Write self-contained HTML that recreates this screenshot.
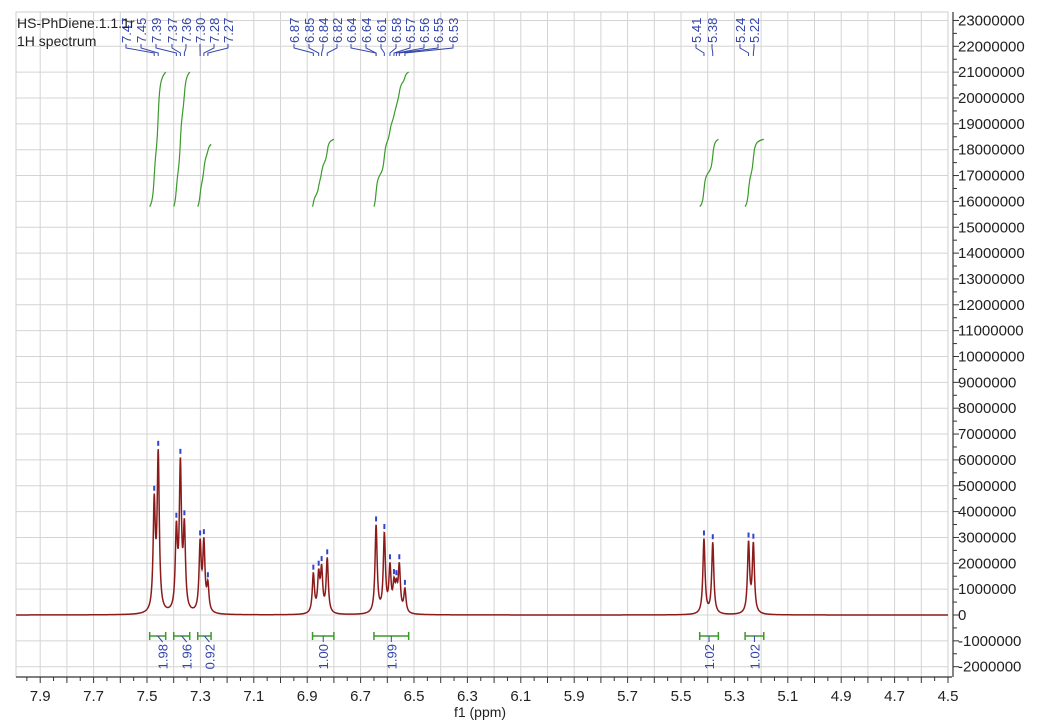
<!DOCTYPE html>
<html><head><meta charset="utf-8"><style>
html,body{margin:0;padding:0;background:#fff;}
svg{display:block;font-family:"Liberation Sans",sans-serif;}
</style></head><body>
<svg id="chart" width="1049" height="722" viewBox="0 0 1049 722" xmlns="http://www.w3.org/2000/svg">
<g id="grid"></g>
<g id="integrals"></g>
<g id="spectrum"></g>
<g id="axes"></g>
<g id="labels"></g>
<text x="17" y="28" font-size="14" fill="#222">HS-PhDiene.1.1.1r</text>
<text x="17" y="46" font-size="14" fill="#222">1H spectrum</text>
<text x="480" y="717" font-size="14" fill="#222" text-anchor="middle">f1 (ppm)</text>
</svg>
<script>
const peakPpm = [7.473,7.458,7.390,7.375,7.360,7.301,7.287,7.272,6.877,6.857,6.846,6.825,6.642,6.611,6.590,6.575,6.566,6.555,6.534,5.414,5.381,5.247,5.229];
const peakHeight = [4.1,6.0,3.0,5.5,3.1,2.6,2.6,1.0,1.5,1.4,1.6,2.1,3.4,3.0,1.7,0.95,0.8,1.75,0.9,2.9,2.75,2.7,2.65];
const peakLabels = ["7.47","7.45","7.39","7.37","7.36","7.30","7.28","7.27","6.87","6.85","6.84","6.82","6.64","6.64","6.61","6.58","6.57","6.56","6.55","6.53","5.41","5.38","5.24","5.22"];
const integralStart = [7.49,7.40,7.31,6.88,6.65,5.43,5.26];
const integralEnd = [7.43,7.34,7.26,6.80,6.52,5.36,5.19];
const integralValues = ["1.98","1.96","0.92","1.00","1.99","1.02","1.02"];
const integralTop = [21.0,21.0,18.2,18.4,21.0,18.4,18.4];
const xTicks = [7.9,7.7,7.5,7.3,7.1,6.9,6.7,6.5,6.3,6.1,5.9,5.7,5.5,5.3,5.1,4.9,4.7,4.5];
const yTicks = [-2,-1,0,1,2,3,4,5,6,7,8,9,10,11,12,13,14,15,16,17,18,19,20,21,22,23];

const NS="http://www.w3.org/2000/svg";
const X0=16,X1=948,Y0=12,Y1=677;
function xs(p){return 147+(7.5-p)*267;}
function ys(m){return 615-m*25.85;}
function mk(tag,attrs,parent){const e=document.createElementNS(NS,tag);for(const k in attrs)e.setAttribute(k,attrs[k]);parent.appendChild(e);return e;}
const grid=document.getElementById('grid'),axes=document.getElementById('axes');
for(let i=0;i<=35;i++){const p=8.0-i*0.1;const x=xs(p);if(x<X0-1||x>X1+1)continue;
 const l=mk('line',{x1:x,x2:x,y1:Y0,y2:Y1,stroke:'#d4d4d4','stroke-width':1},grid);
 }
for(let m=-2;m<=23;m++){const y=ys(m);
 const l=mk('line',{x1:X0,x2:X1,y1:y,y2:y,stroke:'#d4d4d4','stroke-width':1},grid);
 }
mk('rect',{x:X0,y:Y0,width:X1-X0,height:Y1-Y0,fill:'none',stroke:'#cfcfcf'},grid);
mk('line',{x1:X0,x2:X1+4,y1:Y1,y2:Y1,stroke:'#333','stroke-width':1.2},axes);
for(let i=0;i<=70;i++){const p=8.0-i*0.05;const x=xs(p);if(x<X0||x>X1+2)continue;
 mk('line',{x1:x,x2:x,y1:Y1,y2:Y1+(i%2==0?6:4),stroke:'#333'},axes);}
xTicks.forEach(p=>{const t=mk('text',{x:xs(p),y:701,'font-size':15,fill:'#222','text-anchor':'middle'},axes);t.textContent=p.toFixed(1);
 });
mk('line',{x1:953,x2:953,y1:Y0,y2:Y1,stroke:'#333','stroke-width':1.2},axes);
for(let m=-2.5;m<=23.5;m+=0.5){const y=ys(m);if(y<Y0||y>Y1)continue;
 mk('line',{x1:953,x2:953+(Number.isInteger(m)?6:4),y1:y,y2:y,stroke:'#333'},axes);}
yTicks.forEach(m=>{const t=mk('text',{x:958,y:ys(m)+5,'font-size':15,fill:'#222'},axes);t.textContent=m===0?'0':String(m*1000000);
 });
const hw=0.0048;
function spec(p){let s=0;for(let i=0;i<peakPpm.length;i++){const d=(p-peakPpm[i])/hw;s+=peakHeight[i]/(1+d*d);}return s;}
let pts=[];for(let x=X0;x<=X1;x+=0.25){const p=7.5-(x-147)/267;pts.push(x.toFixed(2)+','+ys(spec(p)).toFixed(2));}
const sp=mk('polyline',{points:pts.join(' '),fill:'none',stroke:'#8b1a1a','stroke-width':1.5},document.getElementById('spectrum'));

peakPpm.forEach((p,i)=>{const y=ys(spec(p));mk('line',{x1:xs(p),x2:xs(p),y1:y-8,y2:y-3,stroke:'#3344cc','stroke-width':2},document.getElementById('spectrum'));});
const ig=document.getElementById('integrals');
integralStart.forEach((a,k)=>{const b=integralEnd[k];const n=200;let cum=[0];let tot=0;
 for(let j=1;j<=n;j++){const p=a-(a-b)*j/n;tot+=spec(p);cum.push(tot);}
 let ip=[];for(let j=0;j<=n;j++){const p=a-(a-b)*j/n;ip.push(xs(p).toFixed(1)+','+ys(15.8+(integralTop[k]-15.8)*cum[j]/tot).toFixed(1));}
 const pl=mk('polyline',{points:ip.join(' '),fill:'none',stroke:'#3a9a2a','stroke-width':1.2},ig);
 
 const x1=xs(a),x2=xs(b),yb=636;
 mk('line',{x1:x1,x2:x2,y1:yb,y2:yb,stroke:'#3a9a2a','stroke-width':1.5},ig);
 mk('line',{x1:x1,x2:x1,y1:yb-4,y2:yb+4,stroke:'#3a9a2a','stroke-width':1.5},ig);
 mk('line',{x1:x2,x2:x2,y1:yb-4,y2:yb+4,stroke:'#3a9a2a','stroke-width':1.5},ig);
 const cx=(x1+x2)/2+(k<3?5:0);
 mk('line',{x1:(x1+x2)/2,x2:cx,y1:yb,y2:yb+6,stroke:'#3344aa'},ig);
 const t=mk('text',{x:0,y:0,'font-size':13,fill:'#3344aa','text-anchor':'end',transform:`translate(${cx+5},${yb+8}) rotate(-90)`},ig);
 t.textContent=integralValues[k];});
const lab=document.getElementById('labels');
const labX=[130,145,160,176,190,204,218,232,298,313,327,341,355,370,385,400,414,428,442,457,700,716,744,758];
const labP=[7.473,7.458,7.39,7.375,7.36,7.301,7.287,7.272,6.877,6.857,6.846,6.825,6.642,6.642,6.611,6.59,6.575,6.566,6.555,6.534,5.414,5.381,5.247,5.229];
peakLabels.forEach((s,i)=>{const lx=labX[i];const px=xs(labP[i]);
 mk('polyline',{points:`${lx-4},44 ${lx-4},48 ${px},53 ${px},56`,fill:'none',stroke:'#3344aa','stroke-width':1},lab);
 const t=mk('text',{x:0,y:0,'font-size':13,fill:'#3344aa','text-anchor':'start',transform:`translate(${lx+1},43) rotate(-90)`},lab);
 t.textContent=s;
 });
</script>
</body></html>
